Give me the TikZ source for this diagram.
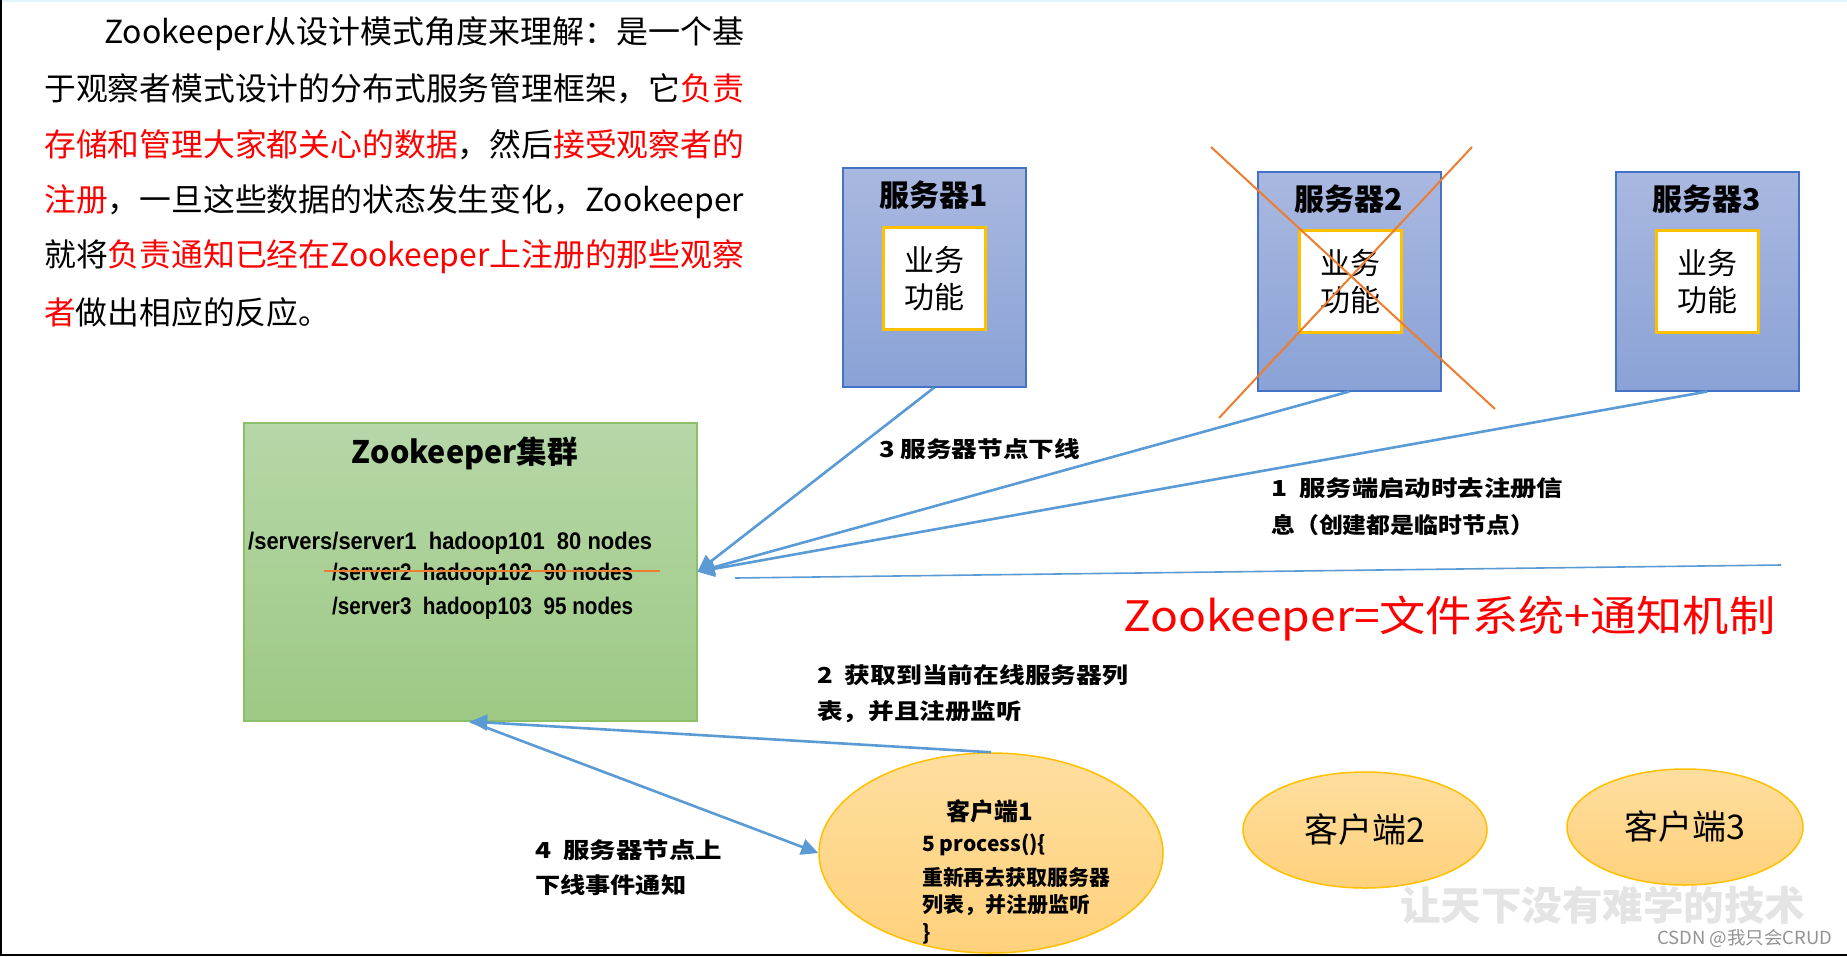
\documentclass[tikz,border=0pt]{standalone}
\usepackage{fontspec}
\usepackage{graphicx}
\setmainfont{Noto Sans CJK SC}
\newfontfamily\arialf{Liberation Sans}
\usetikzlibrary{shapes.geometric,arrows.meta}
\newcommand{\fitto}[2]{\resizebox{#1}{\height}{#2}}
\definecolor{srvtop}{HTML}{A9B8E0}
\definecolor{srvbot}{HTML}{8AA2D6}
\definecolor{srvline}{HTML}{4472C4}
\definecolor{gold}{HTML}{FFC000}
\definecolor{grntop}{HTML}{B6D7A8}
\definecolor{grnbot}{HTML}{9DC984}
\definecolor{grnline}{HTML}{8CC068}
\definecolor{elltop}{HTML}{FFDE9E}
\definecolor{ellbot}{HTML}{FFD17C}
\definecolor{arrowblue}{HTML}{5B9BD5}
\definecolor{xorange}{HTML}{ED7D31}
\definecolor{zkred}{HTML}{FF0000}
\definecolor{wmgray}{HTML}{E4E4E4}
\begin{document}
\begin{tikzpicture}[x=1pt,y=-1pt,
  srv/.style={draw=srvline,line width=1.5pt,top color=srvtop,bottom color=srvbot,anchor=north west,minimum width=183pt,minimum height=219pt,inner sep=0pt},
  innerbox/.style={draw=gold,line width=3pt,fill=white,anchor=north west,minimum width=102pt,minimum height=102pt,inner sep=0pt,align=center,font=\fontsize{30}{37}\selectfont},
  srvtitle/.style={font=\bfseries\fontsize{30}{36}\selectfont,inner sep=0pt},
  grnbox/.style={draw=grnline,line width=1.5pt,top color=grntop,bottom color=grnbot,anchor=north west,minimum width=453pt,minimum height=298pt,inner sep=0pt},
  ell/.style={ellipse,draw=gold,line width=1.5pt,top color=elltop,bottom color=ellbot,inner sep=0pt},
  arr/.style={draw=arrowblue,line width=2.6pt,-{Triangle[length=17pt,width=16pt]}},
  thinline/.style={draw=arrowblue,line width=1.6pt},
  xline/.style={draw=xorange,line width=2pt},
  para/.style={anchor=west,inner sep=0pt,font=\fontsize{31.8}{38}\selectfont},
  lbl/.style={anchor=west,inner sep=0pt,font=\bfseries\fontsize{22}{26}\selectfont},
  clbl/.style={anchor=west,inner sep=0pt,font=\bfseries\fontsize{21}{25}\selectfont},
  zkline/.style={anchor=west,inner sep=0pt,font=\arialf\bfseries\fontsize{24}{28}\selectfont}
]
\useasboundingbox (0,0) rectangle (1847,956);
\fill[white] (0,0) rectangle (1847,956);
\draw[cyan!12,line width=2pt] (0,1) -- (1847,1);
\draw[black,line width=2.5pt] (1.2,0) -- (1.2,956);
\draw[black,line width=2.5pt] (0,954.8) -- (1847,954.8);

% paragraph
\node[para] (p1) at (104,34) {\fitto{640pt}{Zookeeper从设计模式角度来理解：是一个基}};
\node[para] (p2) at (44,89) {\fitto{700pt}{于观察者模式设计的分布式服务管理框架，它\textcolor{zkred}{负责}}};
\node[para] (p3) at (44,145) {\fitto{700pt}{\textcolor{zkred}{存储和管理大家都关心的数据}，然后\textcolor{zkred}{接受观察者的}}};
\node[para] (p4) at (44,202) {\fitto{700pt}{\textcolor{zkred}{注册}，一旦这些数据的状态发生变化，Zookeeper}};
\node[para] (p5) at (44,257) {\fitto{700pt}{就将\textcolor{zkred}{负责通知已经在Zookeeper上注册的那些观察}}};
\node[para] (p6) at (44,312) {\textcolor{zkred}{者}做出相应的反应。};

% servers
\node[srv] (s1) at (842,167) {};
\node[srv] (s2) at (1257,171) {};
\node[srv] (s3) at (1615,171) {};
\node[srvtitle] (t1) at (933.5,195) {服务器1};
\node[srvtitle] (t2) at (1348.5,199) {服务器2};
\node[srvtitle] (t3) at (1706.5,199) {服务器3};
\node[innerbox] (i1) at (882,226) {业务\\功能};
\node[innerbox] (i2) at (1298,229) {业务\\功能};
\node[innerbox] (i3) at (1655,229) {业务\\功能};
\coordinate (x1a) at (1211,147);
\coordinate (x1b) at (1495,409);
\coordinate (x2a) at (1472,147);
\coordinate (x2b) at (1219,418);
\draw[xline] (x1a) -- (x1b);
\draw[xline] (x2a) -- (x2b);

% zookeeper cluster
\node[grnbox] (zk) at (243,422) {};
\node[inner sep=0pt,font=\bfseries\fontsize{31}{36}\selectfont] (zkt) at (465,453) {\fitto{226pt}{Zookeeper集群}};
\node[zkline] (z1) at (248,543) {\fitto{404pt}{/servers/server1\ \ hadoop101\ \ 80 nodes}};
\node[zkline] (z2) at (332,574) {\fitto{301pt}{/server2\ \ hadoop102\ \ 90 nodes}};
\node[zkline] (z3) at (332,608) {\fitto{301pt}{/server3\ \ hadoop103\ \ 95 nodes}};
\coordinate (sa) at (324,571);
\coordinate (sb) at (660,571);
\draw[xline,line width=2.5pt] (sa) -- (sb);

% arrows from servers
\draw[arr] (s1.south) -- (zk.east);
\draw[arr] (s2.south) -- (zk.east);
\draw[arr] (s3.south) -- (zk.east);
\coordinate (ta) at (735,578);
\coordinate (tb) at (1781,565);
\draw[thinline] (ta) -- (tb);

% labels
\node[lbl] (l3) at (879,449) {\fitto{201pt}{3 服务器节点下线}};
\node[lbl] (l1a) at (1271,488) {\fitto{292pt}{1\ \ 服务端启动时去注册信}};
\node[lbl] (l1b) at (1271,525) {\fitto{263pt}{息（创建都是临时节点）}};
\node[anchor=west,inner sep=0pt,font=\fontsize{42}{48}\selectfont,text=zkred] (eq) at (1123,619) {\fitto{652pt}{Zookeeper=文件系统+通知机制}};
\node[lbl] (l2a) at (817,675) {\fitto{311pt}{2\ \ 获取到当前在线服务器列}};
\node[lbl] (l2b) at (817,712) {\fitto{205pt}{表，并且注册监听}};
\node[lbl] (l4a) at (535,850) {\fitto{187pt}{4\ \ 服务器节点上}};
\node[lbl] (l4b) at (535,885) {\fitto{151pt}{下线事件通知}};

% clients
\node[ell,minimum width=344pt,minimum height=200pt] (c1) at (991,853) {};
\node[ell,minimum width=244pt,minimum height=116pt,font=\fontsize{34}{40}\selectfont] (c2) at (1365,830) {客户端2};
\node[ell,minimum width=236pt,minimum height=116pt,font=\fontsize{34}{40}\selectfont] (c3) at (1685,827) {客户端3};
\node[inner sep=0pt,font=\bfseries\fontsize{24}{28}\selectfont] (c1t) at (990,811) {客户端1};
\node[clbl] (c1a) at (922,845) {5 process()\{};
\node[clbl] (c1b) at (922,877) {\fitto{188pt}{重新再去获取服务器}};
\node[clbl] (c1c) at (922,905) {列表，并注册监听};
\node[clbl] (c1d) at (922,934) {\}};

\draw[arr] (c1.north) -- (zk.south);
\draw[arr] (zk.south) -- (c1.west);

% watermarks
\node[anchor=west,inner sep=0pt,text=wmgray,font=\bfseries\fontsize{40}{44}\selectfont] (wm) at (1400,905) {\fitto{405pt}{让天下没有难学的技术}};
\node[anchor=west,inner sep=0pt,text=gray!85,font=\fontsize{18}{22}\selectfont] (csdn) at (1657,938) {\fitto{175pt}{CSDN @我只会CRUD}};
\end{tikzpicture}
\end{document}
